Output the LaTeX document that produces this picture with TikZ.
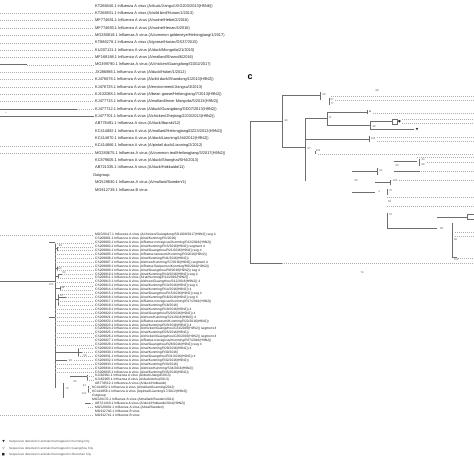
\documentclass[tikz,border=0pt]{standalone}
\usepackage{fontspec}
\setmainfont{Liberation Sans}
\newfontfamily\symfont{DejaVu Sans}
\definecolor{brgray}{HTML}{6E6E6E}
\definecolor{lfgray}{HTML}{ADADAD}
\definecolor{txtgray}{HTML}{222222}
\definecolor{numgray}{HTML}{555555}
\begin{document}
\begin{tikzpicture}[x=1pt,y=-1pt,
  br/.style={draw=brgray, line width=0.9pt},
  lf/.style={draw=lfgray, dash pattern=on 1.2pt off 0.8pt, line width=0.5pt},
  tls/.style={font=\fontsize{3.9}{4.2}\selectfont, text=txtgray, anchor=west, inner sep=0pt},
  bls/.style={font=\fontsize{3.3}{3.5}\selectfont, text=txtgray, anchor=west, inner sep=0pt},
  num/.style={font=\fontsize{2.7}{3}\selectfont, text=numgray, inner sep=0pt},
  leg/.style={font=\fontsize{3.0}{3.2}\selectfont, text=txtgray!80, anchor=west, inner sep=0pt},
  mk/.style={font=\symfont\fontsize{3.2}{3.4}\selectfont, text=txtgray, inner sep=0pt}]
\useasboundingbox (0,0) rectangle (474,474);

% ================= top-left panel =================
\node[tls] (t0) at (95,6.0) {KT266840.1 Influenza A virus (A/duck/Jiangxi/JXG203/2013(H5N6))};
\node[tls] (t1) at (95,13.4) {KT266831.1 Influenza A virus (A/wild bird/Hunan/1/2013)};
\node[tls] (t2) at (95,20.7) {MF774681.1 Influenza A virus (A/swine/Hebei/2/2016)};
\node[tls] (t3) at (95,28.1) {MF774693.1 Influenza A virus (A/swine/Henan/4/2016)};
\node[tls] (t4) at (95,35.4) {MG280818.1 Influenza A virus (A/common goldeneye/Heilongjiang/1/2017)};
\node[tls] (t5) at (95,42.8) {KT886278.1 Influenza A virus (A/goose/Hunan/GS37/2015)};
\node[tls] (t6) at (95,50.2) {KU207121.1 Influenza A virus (A/duck/Mongolia/21/2015)};
\node[tls] (t7) at (95,57.5) {MF168188.1 Influenza A virus (A/mallard/Shanxi/6/2016)};
\node[tls] (t8) at (95,64.9) {MG399790.1 Influenza A virus (A/chicken/Guangdong/GD02/2017)};
\node[tls] (t9) at (95,72.2) {JX286886.1 Influenza A virus (A/duck/Hubei/1/2012)};
\node[tls] (t10) at (95,79.6) {KJ476678.1 Influenza A virus (A/wild duck/Shandong/1/2013(H9N2))};
\node[tls] (t11) at (95,87.0) {KJ476725.1 Influenza A virus (A/environment/Jiangsu/3/2013)};
\node[tls] (t12) at (95,94.3) {KJ132088.1 Influenza A virus (A/bean goose/Heilongjiang/7/2013(H9N2))};
\node[tls] (t13) at (95,101.7) {KJ477715.1 Influenza A virus (A/mallard/Inner Mongolia/5/2013(H9N2))};
\node[tls] (t14) at (95,109.0) {KJ477712.1 Influenza A virus (A/duck/Guangdong/GD07/2013(H9N2))};
\node[tls] (t15) at (95,116.4) {KJ477701.1 Influenza A virus (A/chicken/Zhejiang/ZJ03/2013(H9N2))};
\node[tls] (t16) at (95,123.8) {AB778491.1 Influenza A virus (A/duck/Ibaraki/12)};
\node[tls] (t17) at (95,131.1) {KC414882.1 Influenza A virus (A/mallard/Heilongjiang/DZ23/2012(H9N2))};
\node[tls] (t18) at (95,138.5) {KC414870.1 Influenza A virus (A/duck/Liaoning/LN4/2012(H9N2))};
\node[tls] (t19) at (95,145.8) {KC414866.1 Influenza A virus (A/pintail duck/Liaoning/2/2012)};
\node[tls] (t20) at (95,153.2) {MG280675.1 Influenza A virus (A/common teal/Heilongjiang/3/2017(H9N2))};
\node[tls] (t21) at (95,160.6) {KC879605.1 Influenza A virus (A/duck/Shanghai/SH4/2013)};
\node[tls] (t22) at (95,167.9) {AB721335.1 Influenza A virus (A/duck/Hokkaido/11)};
\node[tls] (t23) at (93,175.3) {Outgroup};
\node[tls] (t24) at (95,182.6) {MG529830.1 Influenza A virus (A/mallard/Sweden/1)};
\node[tls] (t25) at (95,190.0) {MG912739.1 Influenza B virus};

\foreach \k/\y in {1/13.4,2/20.7,3/28.1,4/35.4,5/42.8,6/50.2,7/57.5,9/72.2,10/79.6,11/87.0,12/94.3,13/101.7,19/145.8,20/153.2}
  {\draw[lf] (0,\y) -- ([xshift=-1.5pt]t\k.west);}
\draw[br] (0,64.9) -- (27,64.9);
\draw[lf] (27,64.9) -- ([xshift=-1.5pt]t8.west);
\draw[br] (0,109.0) -- (77,109.0);
\draw[lf] (77,109.0) -- ([xshift=-1.5pt]t14.west);
\draw[br] (0,116.4) -- ([xshift=-1.5pt]t15.west);
\node[num] (n0) at (6,112.6) {+};

% ================= bottom-left panel =================
\node[bls] (b0) at (95,235.0) {MG520117.1 Influenza A virus (A/chicken/Guangdong/SD1009/2017(H9N2)) seg 4};
\node[bls] (b1) at (95,238.9) {CS209801.1 Influenza A virus (A/rat/Kunming/R1/2016)};
\node[bls] (b2) at (95,242.8) {CS209802.1 Influenza A virus (A/Rattus norvegicus/Kunming/R12/2016(H9N2))};
\node[bls] (b3) at (95,246.8) {CS209803.1 Influenza A virus (A/rat/Kunming/R15/2016(H9N2)) segment 4};
\node[bls] (b4) at (95,250.7) {CS209804.1 Influenza A virus (A/rat/Guangzhou/R21/2016(H9N2)) seg 4};
\node[bls] (b5) at (95,254.6) {CS209805.1 Influenza A virus (A/Rattus tanezumi/Kunming/R3/2016(H9N2))};
\node[bls] (b6) at (95,258.5) {CS209806.1 Influenza A virus (A/rat/Kunming/R41/2016(H9N2))};
\node[bls] (b7) at (95,262.4) {CS209807.1 Influenza A virus (A/shrew/Kunming/S7/2016(H9N2)) segment 4};
\node[bls] (b8) at (95,266.4) {CS209808.1 Influenza A virus (A/Rattus flavipectus/Kunming/R8/2016(H9N2))};
\node[bls] (b9) at (95,270.3) {CS209809.1 Influenza A virus (A/rat/Guangzhou/R9/2016(H9N2)) seg 4};
\node[bls] (b10) at (95,274.2) {CS209810.1 Influenza A virus (A/rat/Kunming/R10/2016(H9N2)) seg 4};
\node[bls] (b11) at (95,278.1) {CS209811.1 Influenza A virus (A/rat/Kunming/R11/2016(H9N2))};
\node[bls] (b12) at (95,282.0) {CS209812.1 Influenza A virus (A/shrew/Guangzhou/S12/2016(H9N2)) 4};
\node[bls] (b13) at (95,286.0) {CS209813.1 Influenza A virus (A/rat/Kunming/R13/2016(H9N2)) seg 4};
\node[bls] (b14) at (95,289.9) {CS209814.1 Influenza A virus (A/rat/Kunming/R14/2016(H9N2)) 4};
\node[bls] (b15) at (95,293.8) {CS209815.1 Influenza A virus (A/rat/Guangzhou/R15/2016(H9N2)) seg 4};
\node[bls] (b16) at (95,297.7) {CS209816.1 Influenza A virus (A/rat/Kunming/R16/2016(H9N2)) seg 4};
\node[bls] (b17) at (95,301.6) {CS209817.1 Influenza A virus (A/Rattus norvegicus/Kunming/R17/2016(H9N2))};
\node[bls] (b18) at (95,305.6) {CS209818.1 Influenza A virus (A/rat/Kunming/R18/2016)};
\node[bls] (b19) at (95,309.5) {CS209819.1 Influenza A virus (A/rat/Kunming/R19/2016(H9N2)) 4};
\node[bls] (b20) at (95,313.4) {CS209820.1 Influenza A virus (A/rat/Guangzhou/R20/2016(H9N2)) 4};
\node[bls] (b21) at (95,317.3) {CS209821.1 Influenza A virus (A/shrew/Kunming/S21/2016(H9N2)) 4};
\node[bls] (b22) at (95,321.2) {CS209822.1 Influenza A virus (A/Rattus tanezumi/Kunming/R22/2016(H9N2))};
\node[bls] (b23) at (95,325.2) {CS209823.1 Influenza A virus (A/rat/Kunming/R23/2016(H9N2)) 4};
\node[bls] (b24) at (95,329.1) {CS209824.1 Influenza A virus (A/chicken/Guangzhou/C24/2016(H9N2)) segment 4};
\node[bls] (b25) at (95,333.0) {CS209825.1 Influenza A virus (A/rat/Kunming/R25/2016(H9N2))};
\node[bls] (b26) at (95,336.9) {CS209826.1 Influenza A virus (A/chicken/Guangzhou/C26/2016(H9N2)) segment 4};
\node[bls] (b27) at (95,340.8) {CS209827.1 Influenza A virus (A/Rattus norvegicus/Kunming/R27/2016(H9N2))};
\node[bls] (b28) at (95,344.8) {CS209828.1 Influenza A virus (A/rat/Guangzhou/R28/2016(H9N2)) seg 4};
\node[bls] (b29) at (95,348.7) {CS209829.1 Influenza A virus (A/rat/Kunming/R29/2016(H9N2)) 4};
\node[bls] (b30) at (95,352.6) {CS209830.1 Influenza A virus (A/rat/Kunming/R30/2016)};
\node[bls] (b31) at (95,356.5) {CS209831.1 Influenza A virus (A/rat/Guangzhou/R31/2016(H9N2)) 4};
\node[bls] (b32) at (95,360.4) {CS209832.1 Influenza A virus (A/rat/Kunming/R32/2016(H9N2))};
\node[bls] (b33) at (95,364.4) {CS209833.1 Influenza A virus (A/rat/Kunming/R33/2016)};
\node[bls] (b34) at (95,368.3) {CS209834.1 Influenza A virus (A/shrew/Kunming/S34/2016(H9N2))};
\node[bls] (b35) at (95,372.2) {CS209835.1 Influenza A virus (A/rat/Kunming/R35/2016(H9N2))};
\node[bls] (b36) at (95,376.1) {KJ162901.1 Influenza A virus (A/duck/Jiangxi/2013)};
\node[bls] (b37) at (95,380.0) {KJ162905.1 Influenza A virus (A/duck/Anhui/2013)};
\node[bls] (b38) at (95,384.0) {AB778512.1 Influenza A virus (A/duck/Hokkaido)};
\node[bls] (b39) at (92,387.9) {KC414852.1 Influenza A virus (A/mallard/Liaoning/2012)};
\node[bls] (b40) at (92,391.8) {KC414858.1 Influenza A virus (A/pintail/Liaoning/L7/2012(H9N2))};
\node[bls] (b41) at (92,395.7) {Outgroup};
\node[bls] (b42) at (92,399.6) {MG520170.1 Influenza A virus (A/mallard/Sweden/2011)};
\node[bls] (b43) at (95,403.6) {AB721340.1 Influenza A virus (A/duck/Hokkaido/2011(H9N2))};
\node[bls] (b44) at (95,407.5) {MG529832.1 Influenza A virus (A/teal/Sweden)};
\node[bls] (b45) at (95,411.4) {MG912740.1 Influenza B virus};
\node[bls] (b46) at (95,415.3) {MG912741.1 Influenza B virus};

\draw[lf] (0,235.0) -- ([xshift=-1.5pt]b0.west);
\draw[lf] (0,415.3) -- ([xshift=-1.5pt]b46.west);
% main stem and backbone
\draw[br] (0,281.0) -- (55,281.0);
\draw[br] (55,242.8) -- (55,387.9);
\node[num] (n1) at (51,284.5) {100};
\draw[br] (49,242.8) -- (55,242.8);
\draw[lf] (55,242.8) -- ([xshift=-1.5pt]b2.west);
% k3-k4
\draw[br] (55,248.8) -- (57.5,248.8);
\draw[br] (57.5,246.8) -- (57.5,250.7);
\draw[lf] (57.5,246.8) -- ([xshift=-1.5pt]b3.west);
\draw[lf] (57.5,250.7) -- ([xshift=-1.5pt]b4.west);
\node[num] (n2) at (60.5,245.3) {98};
% direct leaves
\foreach \k/\y in {5/254.6,6/258.5,7/262.4,12/282.0,19/309.5,20/313.4,21/317.3,22/321.2,23/325.2,25/333.0,26/336.9,28/344.8,33/364.4,34/368.3,35/372.2}
  {\draw[lf] (55,\y) -- ([xshift=-1.5pt]b\k.west);}
% k8-k9
\draw[br] (55,268.3) -- (57,268.3);
\draw[br] (57,266.4) -- (57,270.3);
\draw[lf] (57,266.4) -- ([xshift=-1.5pt]b8.west);
\draw[lf] (57,270.3) -- ([xshift=-1.5pt]b9.west);
\node[num] (n3) at (60,268.3) {96};
% k10-k11
\draw[br] (55,276.1) -- (58,276.1);
\draw[br] (58,274.2) -- (58,278.1);
\draw[br] (58,274.2) -- (62,274.2);
\draw[lf] (62,274.2) -- ([xshift=-1.5pt]b10.west);
\draw[lf] (58,278.1) -- ([xshift=-1.5pt]b11.west);
\node[num] (n4) at (64,272.4) {99};
% k13-k14
\draw[br] (55,288.0) -- (60,288.0);
\draw[br] (60,286.0) -- (60,289.9);
\draw[lf] (60,286.0) -- ([xshift=-1.5pt]b13.west);
\draw[lf] (60,289.9) -- ([xshift=-1.5pt]b14.west);
\node[num] (n5) at (63,288.0) {98};
% k15-k18
\draw[br] (55,299.7) -- (58,299.7);
\draw[br] (58,293.8) -- (58,305.6);
\draw[br] (58,297.7) -- (66,297.7);
\draw[lf] (58,293.8) -- ([xshift=-1.5pt]b15.west);
\draw[lf] (66,297.7) -- ([xshift=-1.5pt]b16.west);
\draw[lf] (58,301.6) -- ([xshift=-1.5pt]b17.west);
\draw[lf] (58,305.6) -- ([xshift=-1.5pt]b18.west);
\node[num] (n6) at (62,295.7) {87};
\draw[br] (49,317.3) -- (55,317.3);
\node[num] (n7) at (58,319.0) {*};
% k29-k31
\draw[br] (55,352.6) -- (78,352.6);
\draw[br] (78,348.7) -- (78,356.5);
\draw[br] (78,352.6) -- (82,352.6);
\draw[lf] (78,348.7) -- ([xshift=-1.5pt]b29.west);
\draw[lf] (82,352.6) -- ([xshift=-1.5pt]b30.west);
\draw[lf] (78,356.5) -- ([xshift=-1.5pt]b31.west);
\node[num] (n8) at (85,355.2) {96};
% k32
\draw[br] (55,360.4) -- (67,360.4);
\node[num] (n9) at (70.5,360.4) {98};
\draw[lf] (74,360.4) -- ([xshift=-1.5pt]b32.west);
% k36-k37
\draw[br] (70,376.1) -- (87,376.1);
\draw[br] (87,374.8) -- (87,380.0);
\draw[lf] (87,376.1) -- ([xshift=-1.5pt]b36.west);
\draw[lf] (87,380.0) -- ([xshift=-1.5pt]b37.west);
\node[num] (n10) at (75,381.6) {86};
% lower clade
\draw[br] (63,383.0) -- (63,397.5);
\node[num] (n11) at (67,389.0) {76};
\draw[br] (88,386.0) -- (88,391.8);
\draw[lf] (88,387.9) -- ([xshift=-1.0pt]b39.west);
\draw[lf] (88,391.8) -- ([xshift=-1.0pt]b40.west);
\node[num] (n12) at (84.5,386.0) {93};
\node[num] (n13) at (84.0,394.0) {100};
\draw[br] (85,403.6) -- (90,403.6);
\draw[lf] (90,403.6) -- ([xshift=-1.5pt]b43.west);
\draw[lf] (88,407.5) -- ([xshift=-1.5pt]b44.west);

% legend
\node[mk] (m1) at (3.5,442.0) {▼};
\node[leg] (l1) at (9,442.0) {Sequences detected in animals that trapped in Kunming City};
\node[mk] (m2) at (3.5,448.3) {▽};
\node[leg] (l2) at (9,448.3) {Sequences detected in animals that trapped in Guangzhou City};
\node[mk] (m3) at (3.5,455.0) {■};
\node[leg] (l3) at (9,455.0) {Sequences detected in animals that trapped in Shenzhen City};

% ================= right panel c =================
\node[font=\bfseries\fontsize{9}{9}\selectfont, inner sep=0pt] (c) at (250,77) {c};
\draw[br] (250,121) -- (250,263);
\draw[br] (250,121) -- (282,121);
\node[num] (r1) at (286,121) {96};
\draw[br] (282,95) -- (282,147);
\draw[br] (282,95) -- (320,95);
\draw[br] (320,92) -- (320,100);
\node[num] (r2) at (324,95) {95};
\draw[br] (329,97.5) -- (329,104.5);
\node[num] (r3) at (332,99.5) {67};
\node[num] (r4) at (332,103.5) {77};
\coordinate (e1) at (474,96.5);
\coordinate (e2) at (474,100);
\draw[lf] (331,96.5) -- (e1);
\draw[lf] (335,100) -- (e2);
\node[num] (r5) at (377,91) {98};
\draw[br] (282,147) -- (305,147);
\node[num] (r6) at (309,149) {57};
\draw[br] (305,118) -- (305,181);
\draw[br] (305,118) -- (327,118);
\node[num] (r7) at (330,118) {71};
\draw[br] (327,112) -- (327,125);
\draw[br] (327,112) -- (367,112);
\draw[br] (367,110) -- (367,114);
\node[mk] (r8) at (370.5,112) {▸};
\coordinate (e3) at (474,113);
\draw[lf] (373,113) -- (e3);
\draw[br] (327,125) -- (370,125);
\draw[br] (370,121) -- (370,129);
\draw[br] (370,121) -- (392,121);
\draw[br] (392,119) rectangle (397,124);
\node[mk] (r9) at (399.5,121.5) {●};
\node[num] (r10) at (374,126.3) {98};
\coordinate (e4) at (474,119);
\coordinate (e5) at (474,123);
\draw[lf] (402,119) -- (e4);
\draw[lf] (402,123) -- (e5);
\draw[br] (370,129) -- (414,129);
\node[mk] (r11) at (417,129.5) {▼};
\draw[br] (305,139) -- (369,139);
\draw[br] (369,136) -- (369,142);
\node[num] (r12) at (373,139) {100};
\coordinate (e6) at (474,137);
\coordinate (e7) at (474,141);
\draw[lf] (377,137) -- (e6);
\draw[lf] (377,141) -- (e7);
\draw[br] (315,151) -- (315,153.5);
\node[num] (r13) at (318,150.5) {100};
\coordinate (e8) at (474,154);
\coordinate (e9) at (474,157.5);
\draw[lf] (318,154) -- (e8);
\draw[lf] (417,157.5) -- (e9);
% lower part of panel c
\draw[br] (394,161) -- (417,161);
\draw[br] (419,159) -- (419,166);
\node[num] (r14) at (423,160) {93};
\node[num] (r15) at (423,164.5) {88};
\draw[br] (394,171) -- (420,171);
\node[num] (r16) at (397,166) {80};
\coordinate (e10) at (474,162);
\coordinate (e11) at (474,171);
\draw[lf] (427,162) -- (e10);
\draw[lf] (421,171) -- (e11);
\draw[br] (352,171) -- (377,171);
\draw[br] (377,167.5) -- (377,174.5);
\node[num] (r17) at (381,171) {61};
\draw[br] (375,182) -- (390,182);
\draw[br] (390,179.5) -- (390,184.5);
\node[num] (r18) at (395,181) {100};
\node[num] (r19) at (356,181) {98};
\coordinate (e12) at (474,180);
\draw[lf] (399,180) -- (e12);
\draw[br] (352,192) -- (375,192);
\node[num] (r20) at (379,192) {4};
\draw[br] (387,189) -- (387,195);
\node[num] (r21) at (390.5,191) {76};
\node[num] (r22) at (389.5,201.5) {99};
\coordinate (e13) at (474,197);
\coordinate (e14) at (474,206.5);
\draw[lf] (387,197) -- (e13);
\draw[lf] (387,206.5) -- (e14);
\node[num] (r23) at (390.5,214.5) {76};
\draw[br] (387,213) -- (387,228);
\draw[br] (387,228) -- (437,228);
\node[num] (r24) at (441.5,228.5) {98};
\draw[br] (437,217) -- (467,217);
\draw[br] (467,214.5) rectangle (474,219.5);
\draw[br] (452,223) -- (452,257);
\draw[br] (452,257) -- (457,257);
\node[num] (r25) at (455.5,239.5) {86};
\coordinate (e15) at (474,232);
\coordinate (e16) at (474,236.5);
\coordinate (e17) at (474,258);
\draw[lf] (455,232) -- (e15);
\draw[lf] (455,236.5) -- (e16);
\draw[lf] (458,258) -- (e17);
\node[num] (r26) at (456,260) {100};
\draw[br] (250,263) -- (282,263);
\coordinate (e18) at (474,263);
\draw[lf] (282,263) -- (e18);
\node[num] (r27) at (362,273) {74};
\end{tikzpicture}
\end{document}
